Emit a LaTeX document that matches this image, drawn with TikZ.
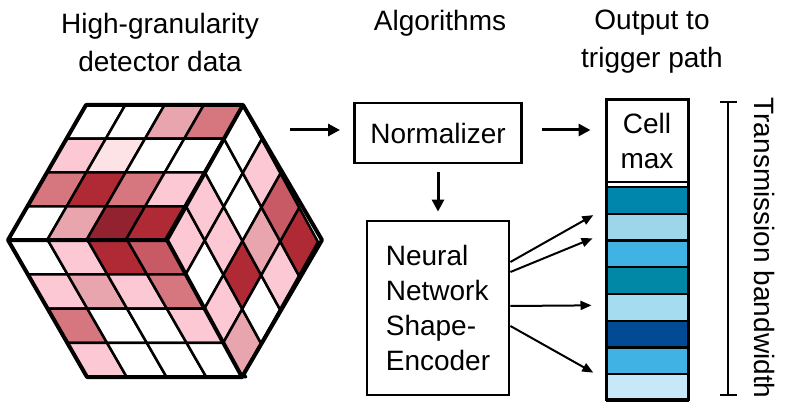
\documentclass[tikz,border=0pt]{standalone}
\usepackage{fontspec}
\setmainfont{Liberation Sans}
\usetikzlibrary{arrows.meta,positioning}
\definecolor{cw}{HTML}{FFFFFF}
\definecolor{cpa}{HTML}{FDE3E6}
\definecolor{cpb}{HTML}{FBC8D3}
\definecolor{cpc}{HTML}{E8A5AE}
\definecolor{cpd}{HTML}{D6767F}
\definecolor{cm}{HTML}{C85A65}
\definecolor{cr}{HTML}{B02A35}
\definecolor{crd}{HTML}{932230}
\definecolor{bla}{HTML}{0086AD}
\definecolor{blb}{HTML}{9DD5EA}
\definecolor{blc}{HTML}{40B2E4}
\definecolor{bld}{HTML}{0088A6}
\definecolor{ble}{HTML}{A6DCF0}
\definecolor{blf}{HTML}{004B93}
\definecolor{blg}{HTML}{C6E8F8}
\tikzset{
  lbl/.style={font=\fontsize{28}{38}\selectfont, align=center},
  box/.style={draw, line width=2.8pt, font=\fontsize{28}{35}\selectfont, inner sep=6pt},
  band/.style={draw, line width=2pt, minimum width=81pt, minimum height=26.5pt, inner sep=0pt},
  arr/.style={-{Triangle[length=12pt,width=12pt]}, line width=3pt},
  thin arr/.style={-{Triangle[length=11pt,width=9pt]}, line width=2pt},
  cell/.style={line width=2.5pt, line join=round},
}
\newcommand\cubecell[1]{\filldraw[cell, fill=#1] (\k,\r) -- ++(1,0) -- ++(0,1) -- ++(-1,0) -- cycle;}
\begin{document}
\begin{tikzpicture}[x=1pt,y=-1pt]
  \useasboundingbox (0,0) rectangle (789,414);

  % titles
  \node[lbl] (t1) at (160,42) {High-granularity\\detector data};
  \node[lbl] (t2) at (440,23) {Algorithms};
  \node[lbl] (t3) at (652,42) {Output to\\trigger path};

  % cube: top face
  \begin{scope}[shift={(86,105)}, x={(39.25pt,0pt)}, y={(-19.5pt,-33.75pt)}]
    \foreach \row [count=\r from 0] in {{cw,cw,cpc,cpd},{cpb,cpa,cw,cw},{cpd,cr,cpd,cpb},{cw,cpc,crd,cr}}
      \foreach \c [count=\k from 0] in \row
        {\cubecell{\c}}
  \end{scope}
  % cube: front face
  \begin{scope}[shift={(8,240)}, x={(39.75pt,0pt)}, y={(19.75pt,-34.25pt)}]
    \foreach \row [count=\r from 0] in {{cw,cpb,cr,cm},{cpb,cpc,cpb,cpd},{cpd,cw,cw,cpb},{cpb,cw,cw,cw}}
      \foreach \c [count=\k from 0] in \row
        {\cubecell{\c}}
  \end{scope}
  % cube: right face
  \begin{scope}[shift={(167,240)}, y={(18.75pt,-34.25pt)}, x={(19pt,33.75pt)}]
    \foreach \row [count=\k from 0] in {{cpb,cw,cpb,cpc},{cpb,cpb,cr,cw},{cw,cw,cpc,cpb},{cw,cpb,cm,cr}}
      \foreach \c [count=\r from 0] in \row
        {\cubecell{\c}}
  \end{scope}
  \draw[line width=4pt, line join=round] (86,105) -- (243,105) -- (322,240) -- (242,377) -- (87,377) -- (8,240) -- cycle;
  \draw[line width=4pt, line join=round] (8,240) -- (167,240) -- (243,105) (167,240) -- (242,377);

  % algorithms
  \coordinate (cube) at (290,130);
  \node[box, minimum width=167pt, minimum height=60pt] (norm) at (438,133) {Normalizer};
  \node[box, minimum width=142pt, minimum height=174pt, align=left] (nn) at (438,308)
    {Neural\\Network\\Shape-\\Encoder};
  \draw[arr] (cube) -- (340,130);
  \draw[arr, shorten <=8pt, shorten >=8pt] (norm.south) -- (nn.north);

  % output
  \node[band, minimum height=82pt, font=\fontsize{28}{35}\selectfont, align=center] (cmax) at (647,141) {Cell\\max};
  \foreach \c [count=\i] in {bla,blb,blc,bld,ble,blf,blc,blg}
    \node[band, fill=\c, anchor=north] (b\i) at (647,{186+(\i-1)*26.75}) {};
  \draw[line width=3pt] (606,100) rectangle (688,399);
  \coordinate (na) at (542,130);
  \draw[arr, shorten >=15pt] (na) -- (na -| cmax.west);

  \draw[thin arr, shorten >=14pt] ([yshift=46pt]nn.east) -- ([yshift=-8pt]b1.west);
  \draw[thin arr, shorten >=14pt] ([yshift=36pt]nn.east) -- ([yshift=-6pt]b2.west);
  \draw[thin arr, shorten >=14pt] ([yshift=2pt]nn.east) -- ([yshift=2pt]b5.west);
  \draw[thin arr, shorten >=14pt] ([yshift=-18pt]nn.east) -- ([yshift=8pt]b8.west);

  % bandwidth bracket
  \coordinate (bt) at (728,102);
  \coordinate (bb) at (728,395);
  \draw[line width=2.5pt] (bt) -- (bb) (720,102) -- (737,102) (720,395) -- (737,395);
  \node[lbl, rotate=-90] (bw) at (764,248) {Transmission bandwidth};
\end{tikzpicture}
\end{document}
